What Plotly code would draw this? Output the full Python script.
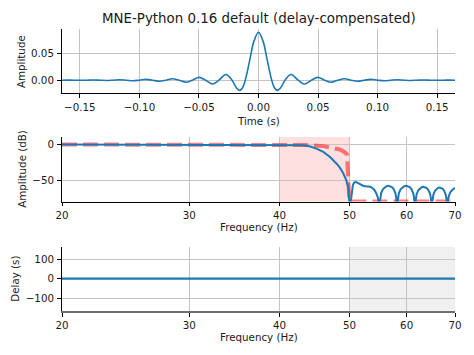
import math
import plotly.graph_objects as go

# ---------------- data ----------------
# Impulse response (time in s, amplitude)
imp_t = [-0.1650, -0.1610, -0.1556, -0.1500, -0.1444, -0.1389, -0.1333, -0.1278,
         -0.1222, -0.1167, -0.1111, -0.1056, -0.1000, -0.0943, -0.0889, -0.0832,
         -0.0778, -0.0721, -0.0667, -0.0609, -0.0556, -0.0498, -0.0444, -0.0386,
         -0.0333, -0.0273, -0.0222, -0.0185, -0.0159, -0.0135, -0.0111, -0.0070,
         -0.0040, 0.0000, 0.0040, 0.0070, 0.0111, 0.0135, 0.0159, 0.0185,
         0.0222, 0.0273, 0.0333, 0.0386, 0.0444, 0.0498, 0.0556, 0.0609,
         0.0667, 0.0721, 0.0778, 0.0832, 0.0889, 0.0943, 0.1000, 0.1056,
         0.1111, 0.1167, 0.1222, 0.1278, 0.1333, 0.1389, 0.1444, 0.1500,
         0.1556, 0.1610, 0.1650]
imp_h = [0.0000, 0.0002, 0.0000, -0.0002, 0.0000, 0.0003, 0.0000, -0.0005,
         0.0000, 0.0007, 0.0000, -0.0010, 0.0000, 0.0015, 0.0000, -0.0020,
         0.0000, 0.0028, 0.0000, -0.0038, 0.0000, 0.0052, 0.0000, -0.0072,
         0.0000, 0.0108, 0.0000, -0.0145, -0.0191, -0.0145, 0.0000, 0.0415,
         0.0719, 0.0900, 0.0719, 0.0415, 0.0000, -0.0145, -0.0191, -0.0145,
         0.0000, 0.0108, 0.0000, -0.0072, 0.0000, 0.0052, 0.0000, -0.0038,
         0.0000, 0.0028, 0.0000, -0.0020, 0.0000, 0.0015, 0.0000, -0.0010,
         0.0000, 0.0007, 0.0000, -0.0005, 0.0000, 0.0003, 0.0000, -0.0002,
         0.0000, 0.0002, 0.0000]

# Magnitude response (Hz, dB)
resp_f = [20.0, 30.0, 38.0, 40.0, 41.0, 42.0, 43.0, 44.0, 45.0, 46.0, 47.0, 48.0,
          48.5, 49.0, 49.5, 49.8, 50.0, 50.15,
          50.22, 50.35, 50.55, 50.75, 50.95, 51.2, 51.5, 51.8, 52.2, 52.6, 53.0,
          53.4, 53.8, 54.2, 54.5, 54.75, 54.9, 55.0,
          55.06, 55.16, 55.32, 55.64, 55.96, 56.28, 56.6, 56.92, 57.24, 57.56,
          57.88, 58.04, 58.14, 58.2,
          58.27, 58.37, 58.54, 58.88, 59.22, 59.56, 59.9, 60.24, 60.58, 60.92,
          61.26, 61.43, 61.53, 61.6,
          61.67, 61.77, 61.94, 62.28, 62.62, 62.96, 63.3, 63.64, 63.98, 64.32,
          64.66, 64.83, 64.93, 65.0,
          65.07, 65.17, 65.33, 65.66, 65.99, 66.32, 66.65, 66.98, 67.31, 67.64,
          67.97, 68.13, 68.23, 68.3,
          68.37, 68.47, 68.64, 68.98, 69.32, 69.66, 69.85, 70.0]
resp_db = [0.0, 0.0, 0.0, -0.05, -0.15, -0.4, -1.0, -2.6, -5.8, -10.5, -17.5, -27.0,
           -32.5, -40.0, -50.0, -60.0, -72.0, -100.0,
           -80.0, -66.0, -57.0, -53.5, -52.8, -53.3, -54.8, -56.3, -57.8, -58.5, -58.6,
           -59.3, -61.0, -64.5, -69.0, -75.0, -83.0, -100.0,
           -82.0, -74.0, -68.2, -62.6, -59.8, -58.4, -58.0, -58.4, -59.8, -62.6,
           -68.2, -74.0, -82.0, -100.0,
           -82.0, -74.0, -68.2, -62.6, -59.8, -58.4, -58.0, -58.4, -59.8, -62.6,
           -68.2, -74.0, -82.0, -100.0,
           -83.5, -75.5, -69.7, -64.1, -61.3, -59.9, -59.5, -59.9, -61.3, -64.1,
           -69.7, -75.5, -83.5, -100.0,
           -84.5, -76.5, -70.7, -65.1, -62.3, -60.9, -60.5, -60.9, -62.3, -65.1,
           -70.7, -76.5, -84.5, -100.0,
           -86.0, -78.0, -72.2, -66.6, -63.8, -62.2, -61.6, -61.8]

# Ideal (desired) response (Hz, dB)
ideal_f = [20.0, 40.0, 42.0, 44.0, 46.0, 47.5, 48.5, 49.2, 49.6, 50.0, 70.0]
ideal_db = [0.0, 0.0, -0.2, -0.8, -2.3, -4.5, -7.0, -10.5, -14.0, -80.0, -80.0]

# Group delay (Hz, s)
delay_f = [20.0, 70.0]
delay_s = [0.0, 0.0]

trans_band = [40.0, 50.0]
stop_band = [50.0, 70.0]

time_ticks = [-0.15, -0.10, -0.05, 0.00, 0.05, 0.10, 0.15]
time_ticklabels = ["\u22120.15", "\u22120.10", "\u22120.05", "0.00", "0.05", "0.10", "0.15"]
amp_ticks = [0.00, 0.05]
amp_ticklabels = ["0.00", "0.05"]
freq_ticks = [20, 30, 40, 50, 60, 70]
freq_ticklabels = ["20", "30", "40", "50", "60", "70"]
db_ticks = [-50, 0]
db_ticklabels = ["\u221250", "0"]
delay_ticks = [-100, 0, 100]
delay_ticklabels = ["\u2212100", "0", "100"]

# ---------------- figure ----------------
W, H = 474, 355
BLUE = "#1f77b4"
FONT = "DejaVu Sans"
FS = 10.3
TXT = "#1a1a1a"


def px_x(p):
    return p / W


def px_y(p):
    return 1 - p / H


fig = go.Figure()

fig.add_trace(go.Scatter(x=imp_t, y=imp_h, mode="lines",
                         line=dict(color=BLUE, width=1.6, shape="spline", smoothing=1.0),
                         xaxis="x", yaxis="y", showlegend=False))
fig.add_trace(go.Scatter(x=ideal_f, y=ideal_db, mode="lines",
                         line=dict(color="rgba(255,0,0,0.5)", width=4, dash="15px,6px"),
                         xaxis="x2", yaxis="y2", showlegend=False))
fig.add_trace(go.Scatter(x=resp_f, y=resp_db, mode="lines",
                         line=dict(color=BLUE, width=2),
                         xaxis="x2", yaxis="y2", showlegend=False))
fig.add_trace(go.Scatter(x=delay_f, y=delay_s, mode="lines",
                         line=dict(color=BLUE, width=2.2),
                         xaxis="x3", yaxis="y3", showlegend=False))

xdom = [px_x(62), px_x(455)]
common = dict(showline=True, ticks="outside",
              ticklen=4, tickwidth=0.9, tickcolor="black", showgrid=True,
              gridcolor="#c4c4c4", gridwidth=0.9, zeroline=False, mirror=False,
              automargin=False,
              tickfont=dict(family=FONT, size=FS, color=TXT))

frange = [math.log10(20), math.log10(70)]

fig.update_layout(
    width=W, height=H,
    margin=dict(l=0, r=0, t=0, b=0, pad=0),
    paper_bgcolor="white", plot_bgcolor="white",
    font=dict(family=FONT, size=FS, color=TXT),
    xaxis=dict(domain=xdom, anchor="y", range=[-0.165, 0.165],
               tickvals=time_ticks, ticktext=time_ticklabels,
               linecolor="black", linewidth=0.9, **common),
    yaxis=dict(domain=[px_y(93.3), px_y(29.3)], anchor="x", range=[-0.0246, 0.0955],
               tickvals=amp_ticks, ticktext=amp_ticklabels, ticklabelstandoff=1,
               linecolor="black", linewidth=0.9, **common),
    xaxis2=dict(domain=xdom, anchor="y2", type="log", range=frange,
                tickvals=freq_ticks, ticktext=freq_ticklabels,
                linecolor="black", linewidth=0.9, **common),
    yaxis2=dict(domain=[px_y(201.5), px_y(137.0)], anchor="x2", range=[-80, 10.5],
                tickvals=db_ticks, ticktext=db_ticklabels, ticklabelstandoff=1,
                linecolor="black", linewidth=0.9, **common),
    xaxis3=dict(domain=xdom, anchor="y3", type="log", range=frange,
                tickvals=freq_ticks, ticktext=freq_ticklabels,
                linecolor="#6e6e6e", linewidth=2, **common),
    yaxis3=dict(domain=[px_y(310.7), px_y(246.7)], anchor="x3", range=[-163, 163],
                tickvals=delay_ticks, ticktext=delay_ticklabels, ticklabelstandoff=1,
                linecolor="black", linewidth=0.9, **common),
)

fig.add_shape(type="rect", xref="x2", yref="y2 domain", x0=trans_band[0], x1=trans_band[1],
              y0=0, y1=1, fillcolor="rgba(255,0,0,0.12)", line_width=0, layer="below")
fig.add_shape(type="rect", xref="x3", yref="y3 domain", x0=stop_band[0], x1=stop_band[1],
              y0=0, y1=1, fillcolor="rgba(0,0,0,0.06)", line_width=0, layer="below")

ann = [
    ("MNE-Python 0.16 default (delay-compensated)", 258.5, 18.3, 0, 13.4),
    ("Time (s)", 258.5, 120.5, 0, FS),
    ("Frequency (Hz)", 258.5, 226.7, 0, FS),
    ("Frequency (Hz)", 258.5, 336.7, 0, FS),
    ("Amplitude", 21.7, 61.3, -90, FS),
    ("Amplitude (dB)", 22.5, 169.3, -90, FS),
    ("Delay (s)", 15.0, 278.7, -90, FS),
]
for text, ax_, ay_, ang, size in ann:
    fig.add_annotation(text=text, xref="paper", yref="paper", x=px_x(ax_), y=px_y(ay_),
                       showarrow=False, xanchor="center", yanchor="middle", textangle=ang,
                       font=dict(family=FONT, size=size, color=TXT))

fig.write_html("out.html", config={"displayModeBar": False})

# remove default page margin so the figure sits at the window origin
with open("out.html", "r", encoding="utf-8") as fh:
    html = fh.read()
html = html.replace("<body>", '<body style="margin:0;padding:0;overflow:hidden">', 1)
with open("out.html", "w", encoding="utf-8") as fh:
    fh.write(html)
